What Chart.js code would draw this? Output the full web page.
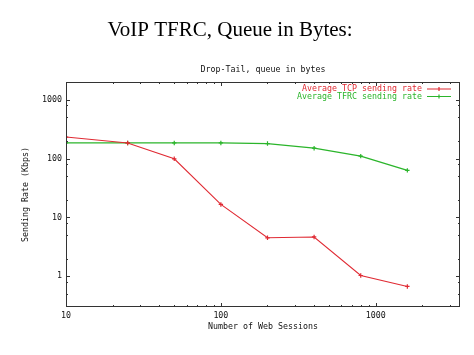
<!DOCTYPE html>
<html>
<head>
<meta charset="utf-8">
<script src="https://cdn.jsdelivr.net/npm/chart.js@4.4.1/dist/chart.umd.min.js"></script>
<style>
html,body{margin:0;padding:0;background:#fff;}
canvas{display:block;}
</style>
</head>
<body>
<canvas id="c" width="474" height="355"></canvas>
<script>
// ---- data ----
const sessions = [10, 25, 50, 100, 200, 400, 800, 1600];
const tcpRate  = [232, 184, 99, 16.6, 4.5, 4.65, 1.03, 0.67];
const tfrcRate = [184, 184, 184, 184, 180, 150, 110, 63];
const xMajorTicks = [10, 100, 1000];
const yMajorTicks = [1, 10, 100, 1000];
const xMinorMult = [2, 3, 4, 5, 6, 7, 8, 9];
const yMinorMult = [2, 5, 8];
const seriesLabels = ['Average TCP sending rate', 'Average TFRC sending rate'];
const seriesColors = ['#e02a33', '#2bb52b'];
const mainTitle = 'VoIP TFRC, Queue in Bytes:';
const subTitle = 'Drop-Tail, queue in bytes';
const xTitle = 'Number of Web Sessions';
const yTitle = 'Sending Rate (Kbps)';

const mono = '"DejaVu Sans Mono", "Liberation Mono", monospace';
const monoSize = 8.3;

function toPoints(xs, ys){ return xs.map((x,i)=>({x:x, y:ys[i]})); }

function minorValues(min, max, mults){
  const out = [];
  for (let e = Math.floor(Math.log10(min)) ; e <= Math.ceil(Math.log10(max)); e++){
    const base = Math.pow(10, e);
    mults.forEach(m => { const v = m*base; if (v > min && v < max) out.push(v); });
  }
  return out;
}

const framePlugin = {
  id: 'gnuframe',
  afterDatasetsDraw(chart){
    const ctx = chart.ctx;
    const a = chart.chartArea;
    const xs = chart.scales.x, ys = chart.scales.y;
    ctx.save();
    ctx.strokeStyle = '#333';
    ctx.lineWidth = 1;
    // frame
    ctx.strokeRect(a.left + 0.5, a.top + 0.5, a.right - a.left - 1, a.bottom - a.top - 1);
    ctx.beginPath();
    const tick = (px, len, horiz) => {
      if (horiz){
        ctx.moveTo(px, a.bottom); ctx.lineTo(px, a.bottom - len);
        ctx.moveTo(px, a.top); ctx.lineTo(px, a.top + len);
      } else {
        ctx.moveTo(a.left, px); ctx.lineTo(a.left + len, px);
        ctx.moveTo(a.right, px); ctx.lineTo(a.right - len, px);
      }
    };
    xMajorTicks.forEach(v => tick(Math.round(xs.getPixelForValue(v)) + 0.5, 4, true));
    minorValues(xs.min, xs.max, xMinorMult).forEach(v => tick(Math.round(xs.getPixelForValue(v)) + 0.5, 2, true));
    yMajorTicks.forEach(v => tick(Math.round(ys.getPixelForValue(v)) + 0.5, 4, false));
    minorValues(ys.min, ys.max, yMinorMult).forEach(v => tick(Math.round(ys.getPixelForValue(v)) + 0.5, 2, false));
    ctx.stroke();

    // subtitle centred over plot
    ctx.font = monoSize + 'px ' + mono;
    ctx.fillStyle = '#111';
    ctx.textAlign = 'center';
    ctx.textBaseline = 'middle';
    ctx.fillText(subTitle, (a.left + a.right)/2, a.top - 12);

    // key (gnuplot style, inside top right)
    chart.data.datasets.forEach((ds, i) => {
      const y = a.top + 7 + i*7.5;
      const textRight = a.right - 38;
      ctx.fillStyle = ds.borderColor;
      ctx.textAlign = 'right';
      ctx.fillText(ds.label, textRight, y);
      const x0 = a.right - 33, x1 = a.right - 9;
      ctx.strokeStyle = ds.borderColor;
      ctx.lineWidth = 1.2;
      ctx.beginPath();
      ctx.moveTo(x0, y); ctx.lineTo(x1, y);
      const xm = (x0 + x1)/2;
      ctx.moveTo(xm, y - 2); ctx.lineTo(xm, y + 2);
      ctx.stroke();
    });
    ctx.restore();
  }
};

new Chart(document.getElementById('c'), {
  type: 'line',
  data: {
    datasets: [
      {
        label: seriesLabels[0],
        data: toPoints(sessions, tcpRate),
        borderColor: seriesColors[0],
        backgroundColor: seriesColors[0],
        borderWidth: 1.1,
        pointStyle: 'cross',
        pointRadius: 2.2,
        pointBorderWidth: 1.2,
        tension: 0,
        fill: false
      },
      {
        label: seriesLabels[1],
        data: toPoints(sessions, tfrcRate),
        borderColor: seriesColors[1],
        backgroundColor: seriesColors[1],
        borderWidth: 1.3,
        pointStyle: 'cross',
        pointRadius: 2.2,
        pointBorderWidth: 1.2,
        tension: 0,
        fill: false
      }
    ]
  },
  options: {
    responsive: false,
    animation: false,
    devicePixelRatio: 1,
    layout: { padding: { left: 0, right: 14, top: 0, bottom: 0 } },
    plugins: {
      legend: { display: false },
      tooltip: { enabled: false },
      title: {
        display: true,
        text: mainTitle,
        color: '#000',
        font: { family: '"Liberation Serif", "DejaVu Serif", serif', size: 21, weight: 'normal', lineHeight: 1.2 },
        padding: { top: 18, bottom: 38.8 }
      }
    },
    scales: {
      x: {
        type: 'logarithmic',
        min: 10,
        max: 3500,
        grid: { display: false, drawTicks: false },
        border: { display: false },
        afterBuildTicks(scale){ scale.ticks = xMajorTicks.map(v => ({ value: v })); },
        afterFit(scale){ scale.height = 48; },
        ticks: {
          autoSkip: false,
          maxRotation: 0,
          padding: 4,
          color: '#111',
          font: { family: mono, size: monoSize },
          callback: v => String(v)
        },
        title: {
          display: true,
          text: xTitle,
          color: '#111',
          font: { family: mono, size: monoSize, lineHeight: 1.2 },
          padding: { top: 0, bottom: 23.3 }
        }
      },
      y: {
        type: 'logarithmic',
        min: 0.3,
        max: 2000,
        grid: { display: false, drawTicks: false },
        border: { display: false },
        afterBuildTicks(scale){ scale.ticks = yMajorTicks.map(v => ({ value: v })); },
        afterFit(scale){ scale.width = 66; },
        ticks: {
          autoSkip: false,
          padding: 4,
          color: '#111',
          font: { family: mono, size: monoSize },
          callback: v => String(v)
        },
        title: {
          display: true,
          text: yTitle,
          color: '#111',
          font: { family: mono, size: monoSize, lineHeight: 1.2 },
          padding: { top: 21, bottom: 0 }
        }
      }
    }
  },
  plugins: [framePlugin]
});
</script>
</body>
</html>
